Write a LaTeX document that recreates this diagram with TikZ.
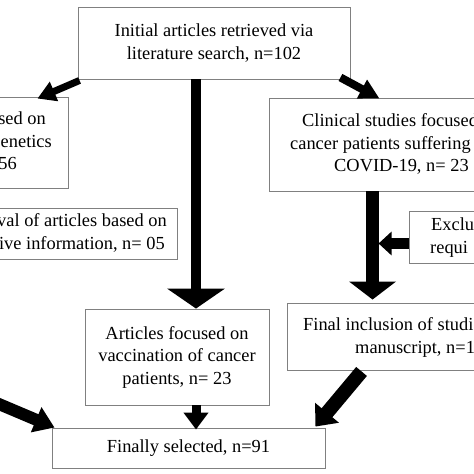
\documentclass[tikz,border=0pt]{standalone}
\usepackage{fontspec}
\setmainfont{Liberation Serif}
\newfontfamily\tnr{Liberation Serif}
\usetikzlibrary{arrows.meta}
\begin{document}
\begin{tikzpicture}[x=1pt, y=-1pt,
    box/.style={draw=gray, line width=.9pt, inner sep=0pt, align=center,
        font=\tnr\fontsize{18.4}{22.5}\selectfont},
    cut/.style={inner sep=0pt, text height=13pt, text depth=4pt,
        font=\tnr\fontsize{18.4}{22.5}\selectfont},
    fat/.style={line width=#1}]
\useasboundingbox (0,0) rectangle (474,474);
\clip (0,0) rectangle (474,474);

% boxes
\node[box, minimum width=272pt, minimum height=72pt] (init) at (214,43)
    {Initial articles retrieved via\\literature search, n=102};
\node[box, minimum width=168pt, minimum height=91pt] (gen) at (-16,142.5) {};
\node[box, minimum width=277pt, minimum height=51pt] (rem) at (38.5,233.5) {};
\node[box, minimum width=291pt, minimum height=93pt] (clin) at (414.5,144.5) {};
\node[box, minimum width=151pt, minimum height=52pt] (excl) at (484.5,237) {};
\node[box, minimum width=273pt, minimum height=67pt] (finc) at (423.5,336.5) {};
\node[box, minimum width=184pt, minimum height=96pt] (vacc) at (177,357)
    {Articles focused on\\vaccination of cancer\\patients, n= 23};
\node[box, minimum width=273pt, minimum height=40pt] (sel) at (188.5,448)
    {Finally selected, n=91};

% texts of the cut boxes
\node[cut, anchor=east] (gen1) at (46,120) {sed on};
\node[cut, anchor=east] (gen2) at (52,142.5) {enetics};
\node[cut, anchor=east] (gen3) at (17,165) {56};
\node[cut, anchor=east] (rem1) at (167,222) {val of articles based on};
\node[cut, anchor=east] (rem2) at (165,245) {ive information, n= 05};
\node[cut, anchor=west] (clin1) at (302,122) {Clinical studies focused};
\node[cut, anchor=west] (clin2) at (290,144.5) {cancer patients suffering};
\node[cut, anchor=west] (clin3) at (334,167) {COVID-19, n= 23};
\node[cut, anchor=west] (excl1) at (431,226) {Exclu};
\node[cut, anchor=west] (excl2) at (430,248.5) {requi};
\node[cut, anchor=west] (finc1) at (303,326) {Final inclusion of studi};
\node[cut, anchor=west] (finc2) at (355,348.5) {manuscript, n=1};

% arrows
\draw[fat=7pt, -{Triangle[width=20pt,length=18pt]}] ([xshift=2pt,yshift=-1pt]init.south west) -- ([xshift=-31pt,yshift=-2pt]gen.north east);
\draw[fat=8pt, -{Triangle[width=20pt,length=20pt]}] ([xshift=-10pt,yshift=2pt]init.south east) -- ([xshift=111pt,yshift=-1pt]clin.north west);
\draw[fat=9.5pt, -{Triangle[width=57pt,length=20pt]}] ([xshift=-18pt]init.south) -- ([xshift=19pt]vacc.north);
\draw[fat=13pt, -{Triangle[width=46pt,length=18pt]}] ([xshift=104pt]clin.south west) -- ([xshift=86pt,yshift=3pt]finc.north west);
\draw[fat=11pt, -{Triangle[width=23pt,length=13pt]}] ([yshift=-6.5pt]excl.west) -- ([xshift=-30pt,yshift=-6.5pt]excl.west);
\draw[fat=9pt, -{Triangle[width=24pt,length=17pt]}] ([xshift=19pt]vacc.south) -- ([xshift=7.5pt,yshift=-2pt]sel.north);
\coordinate (offl) at (-20,396);
\draw[fat=12pt, -{Triangle[width=26pt,length=20pt]}] (offl) -- ([xshift=3pt]sel.north west);
\draw[fat=14pt, -{Triangle[width=30pt,length=18pt]}] ([xshift=75pt,yshift=-1pt]finc.south west) -- ([xshift=-10pt,yshift=1pt]sel.north east);
\end{tikzpicture}
\end{document}
